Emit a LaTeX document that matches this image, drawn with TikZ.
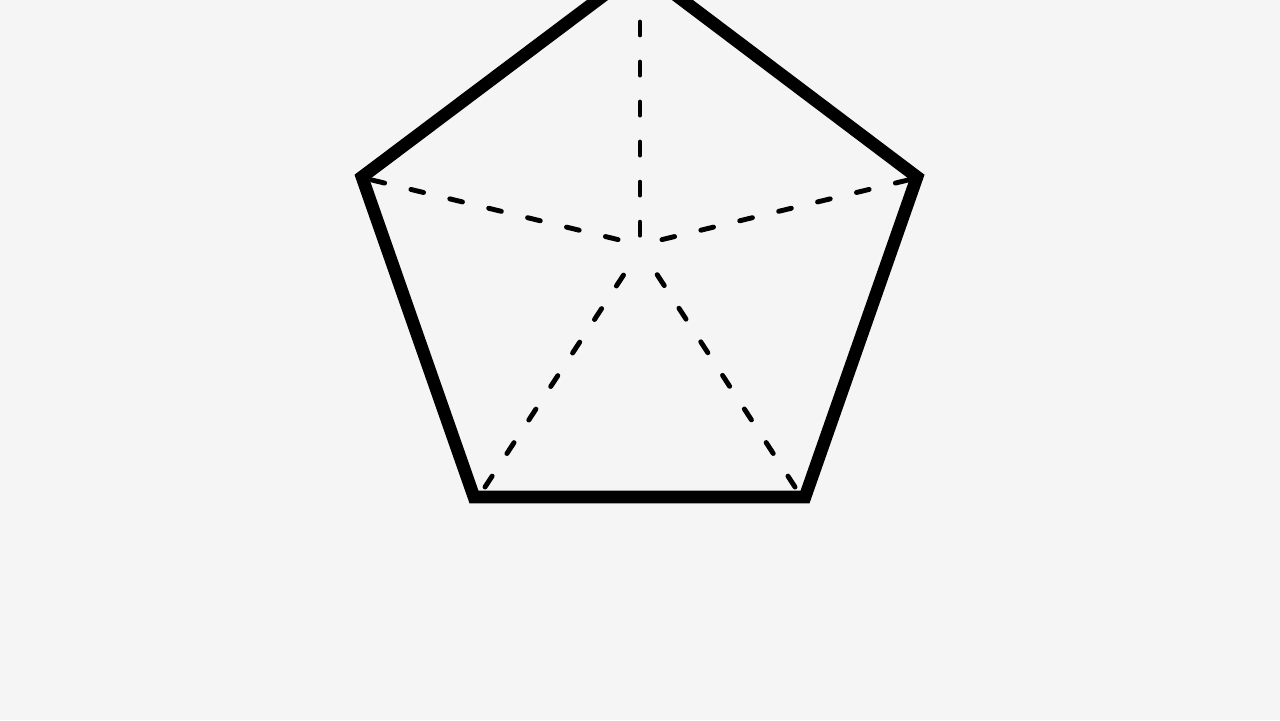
\documentclass[tikz,border=0pt]{standalone}
\usepackage{tikz}

\definecolor{paper}{RGB}{245,245,245}

\tikzset{
  rim/.style={line width=3.6pt, line join=miter},
  spoke/.style={line width=1.4pt, line cap=round, dash pattern=on 0.13cm off 0.27cm}
}

\begin{document}
\begin{tikzpicture}[x=0.01cm, y=-0.01cm]
\fill[paper] (0,0) rectangle (1280,720);
\useasboundingbox (0,0) rectangle (1280,720);
      \begin{scope}
\coordinate (0) at (640,-32);
\coordinate (1) at (917,177);
\coordinate (2) at (805,497);
\coordinate (3) at (474,497);
\coordinate (4) at (362,177);
% inner ends of the spokes
\coordinate (a0) at (640,22);
\coordinate (a1) at (908,180);
\coordinate (a2) at (795,487);
\coordinate (a3) at (485,487);
\coordinate (a4) at (372,180);
\coordinate (b0) at (640,236);
\coordinate (b1) at (652,242);
\coordinate (b2) at (647,259);
\coordinate (b3) at (634,259);
\coordinate (b4) at (628,242);
\draw[rim] (0) -- (1) -- (2) -- (3) -- (4) -- cycle;
\draw[spoke] (a0) -- (b0);
\draw[spoke] (a1) -- (b1);
\draw[spoke] (a2) -- (b2);
\draw[spoke] (a3) -- (b3);
\draw[spoke] (a4) -- (b4);
\end{scope}
    \end{tikzpicture}
\end{document}
